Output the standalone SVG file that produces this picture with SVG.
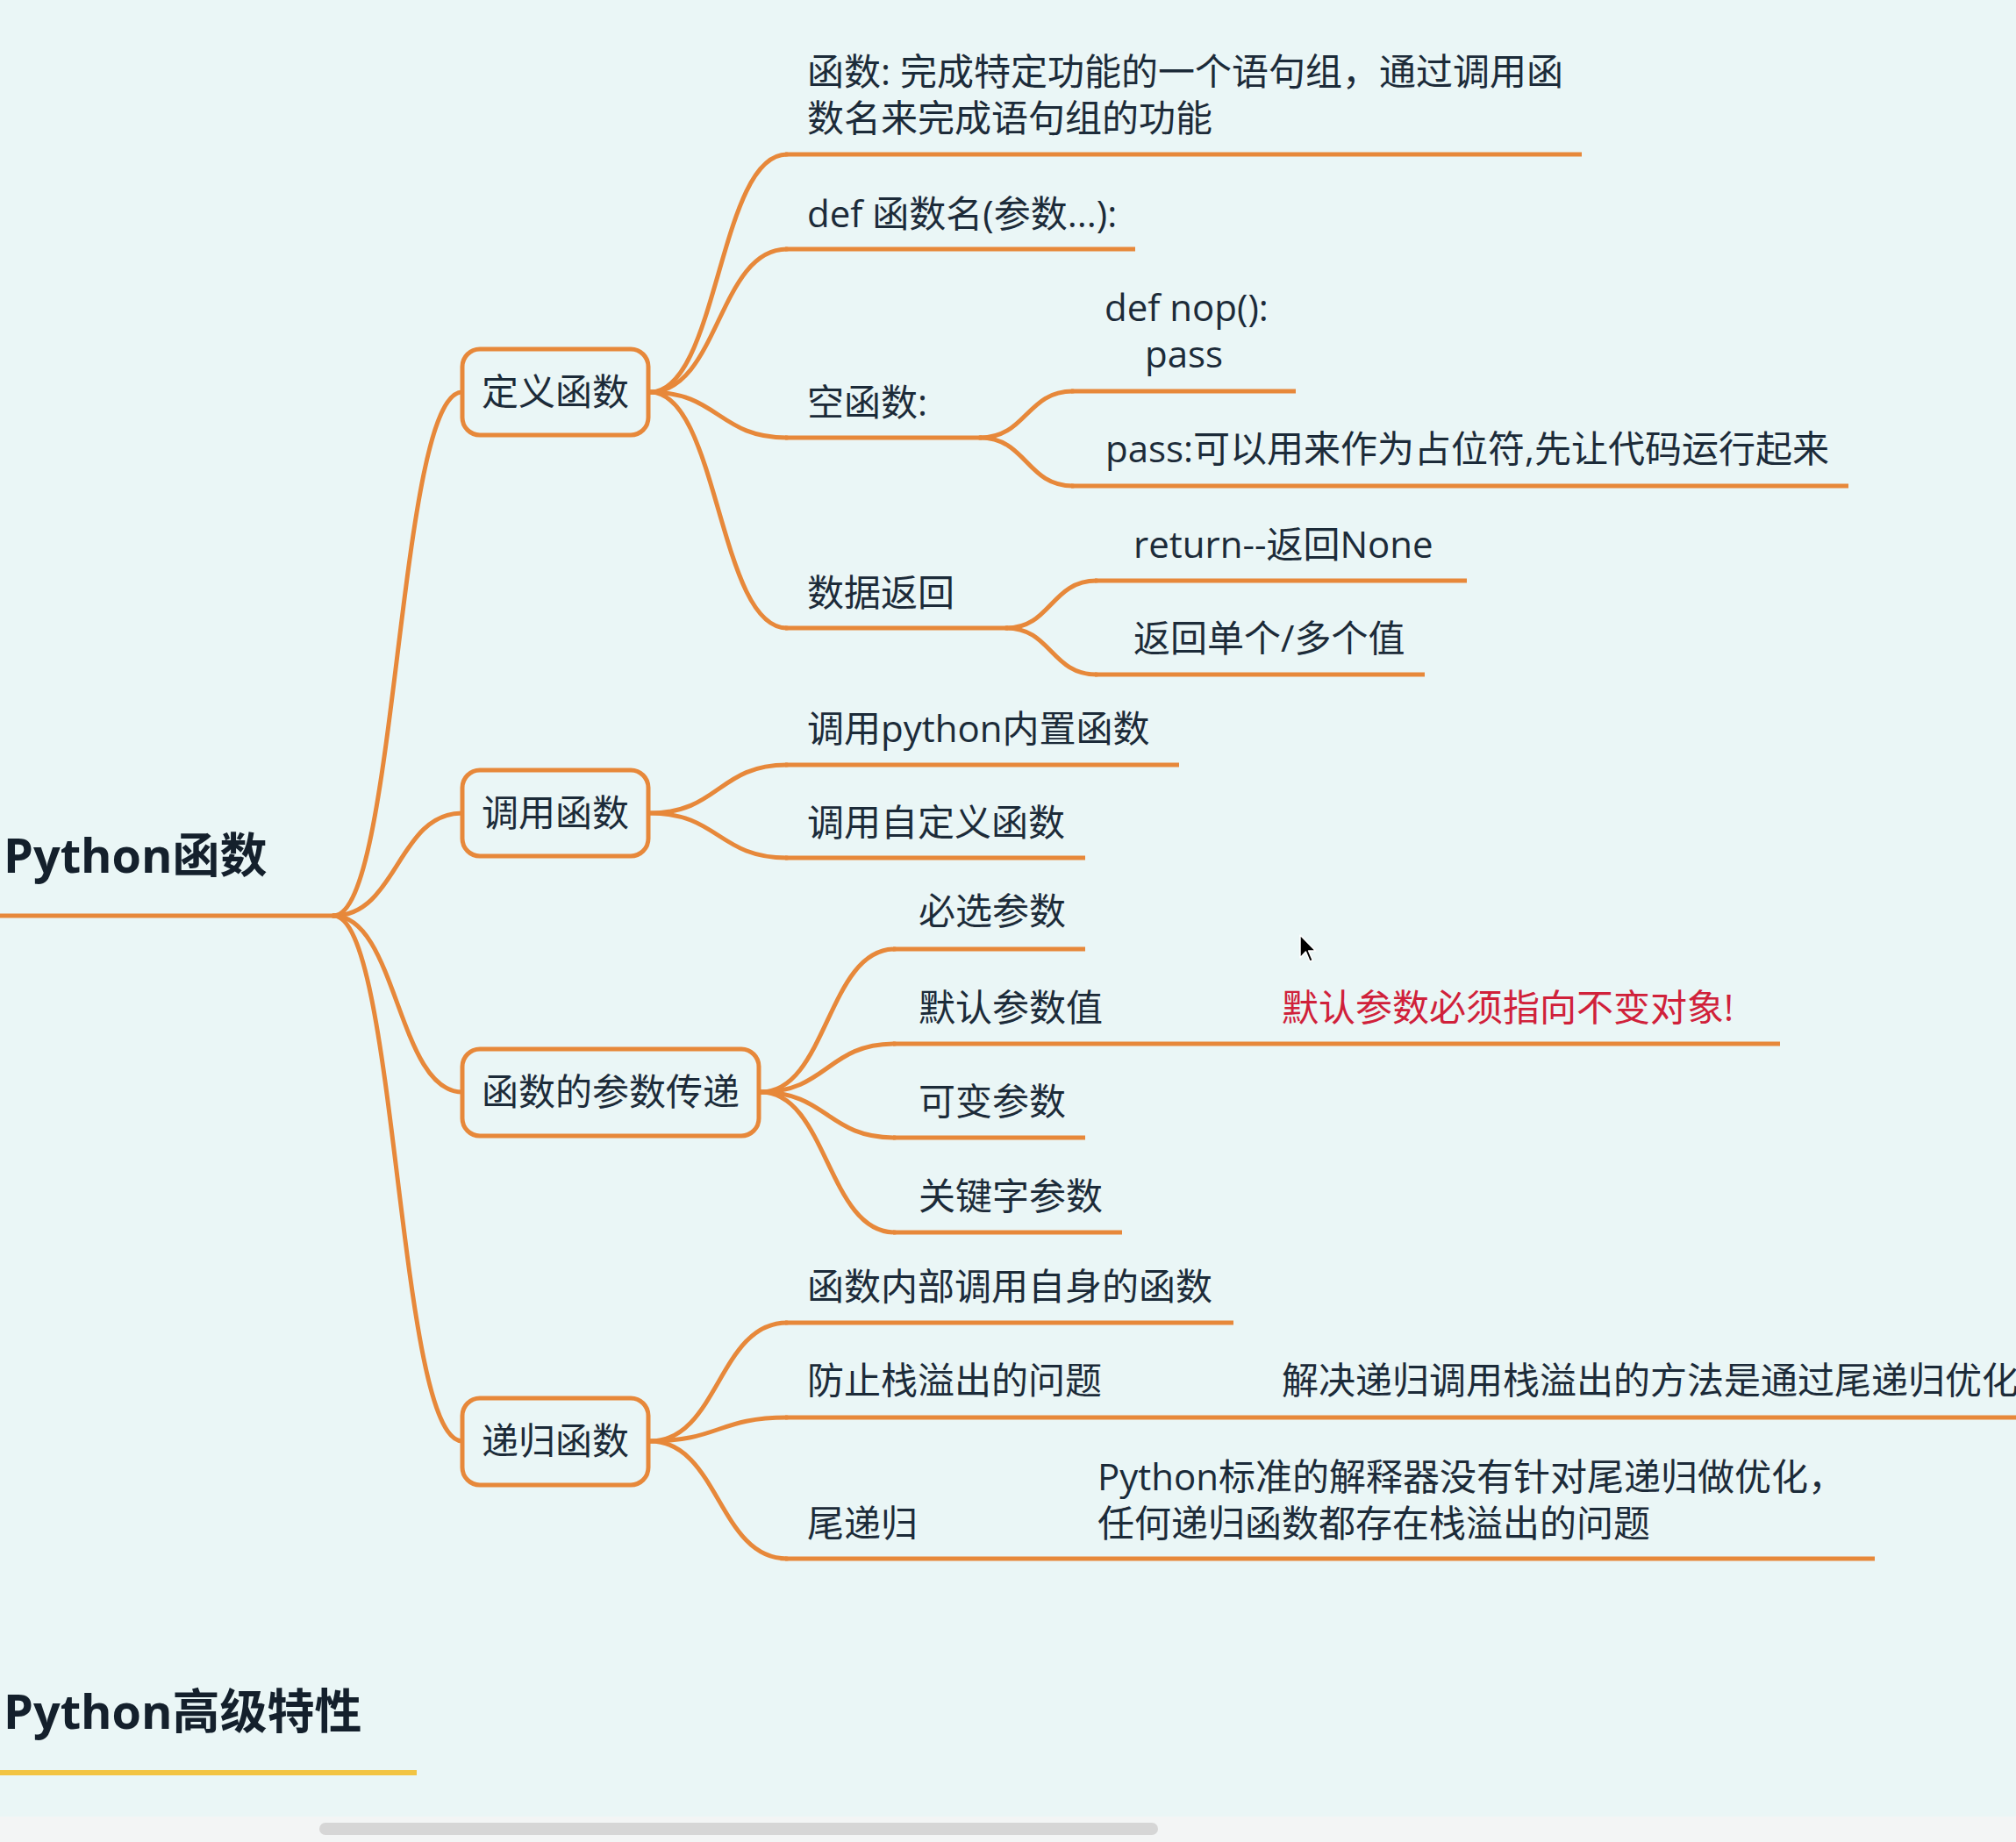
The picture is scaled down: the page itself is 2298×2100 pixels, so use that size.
<svg xmlns="http://www.w3.org/2000/svg" width="2298" height="2100" viewBox="0 0 2298 2100">
<style>
.bg{fill:#EAF6F6}
.t{font-family:"Open Sans","Noto Sans CJK SC",sans-serif;font-size:42px;fill:#1C2B39}
.tb{font-family:"Open Sans","Noto Sans CJK SC",sans-serif;font-size:54px;font-weight:bold;fill:#14202C}
.red{fill:#D0213A}
.box{fill:#EAF6F6;stroke:#E7883A;stroke-width:5}
.ul{stroke:#E7883A;stroke-width:5;fill:none}
.c{stroke:#E7883A;stroke-width:5;fill:none;stroke-linecap:round}
</style>
<rect class="bg" x="0" y="0" width="2298" height="2100"/>

<g id="connectors">
<path class="c" d="M380,1044 C453,1044 453,447 527,447"/>
<path class="c" d="M380,1044 C453,1044 453,927 527,927"/>
<path class="c" d="M380,1044 C453,1044 453,1245 527,1245"/>
<path class="c" d="M380,1044 C453,1044 453,1643 527,1643"/>
<path class="c" d="M741,447 C819,447 819,176 897,176"/>
<path class="c" d="M741,447 C819,447 819,284 897,284"/>
<path class="c" d="M741,447 C819,447 819,499 897,499"/>
<path class="c" d="M741,447 C819,447 819,716 897,716"/>
<path class="c" d="M1117,499 C1170,499 1170,446 1223,446"/>
<path class="c" d="M1117,499 C1170,499 1170,554 1223,554"/>
<path class="c" d="M1147,716 C1198,716 1198,662 1250,662"/>
<path class="c" d="M1147,716 C1198,716 1198,769 1250,769"/>
<path class="c" d="M741,927 C819,927 819,872 897,872"/>
<path class="c" d="M741,927 C819,927 819,978 897,978"/>
<path class="c" d="M867,1245 C943,1245 943,1082 1020,1082"/>
<path class="c" d="M867,1245 C943,1245 943,1190 1020,1190"/>
<path class="c" d="M867,1245 C943,1245 943,1297 1020,1297"/>
<path class="c" d="M867,1245 C943,1245 943,1405 1020,1405"/>
<path class="c" d="M741,1643 C819,1643 819,1508 897,1508"/>
<path class="c" d="M741,1643 C819,1643 819,1616 897,1616"/>
<path class="c" d="M741,1643 C819,1643 819,1777 897,1777"/>
</g>

<g id="root">
<text class="tb" x="4" y="995">Python函数</text>
<line class="ul" x1="0" y1="1044" x2="382" y2="1044"/>
</g>

<g id="n-define">
<rect class="box" x="527" y="398" width="212" height="98" rx="20"/>
<text class="t" x="633" y="462" text-anchor="middle">定义函数</text>
</g>
<g id="n-call">
<rect class="box" x="527" y="878" width="212" height="98" rx="20"/>
<text class="t" x="633" y="942" text-anchor="middle">调用函数</text>
</g>
<g id="n-params">
<rect class="box" x="527" y="1196" width="338" height="99" rx="20"/>
<text class="t" x="696" y="1260" text-anchor="middle">函数的参数传递</text>
</g>
<g id="n-recursion">
<rect class="box" x="527" y="1594" width="212" height="99" rx="20"/>
<text class="t" x="633" y="1658" text-anchor="middle">递归函数</text>
</g>

<g id="n-def-desc">
<text class="t" x="920" y="97">函数: 完成特定功能的一个语句组，通过调用函</text>
<text class="t" x="920" y="150">数名来完成语句组的功能</text>
<line class="ul" x1="895" y1="176" x2="1803" y2="176"/>
</g>
<g id="n-def-syntax">
<text class="t" x="920" y="259">def 函数名(参数...):</text>
<line class="ul" x1="895" y1="284" x2="1294" y2="284"/>
</g>
<g id="n-empty">
<text class="t" x="920" y="474">空函数:</text>
<line class="ul" x1="895" y1="499" x2="1119" y2="499"/>
</g>
<g id="n-nop">
<text class="t" x="1259" y="366">def nop():</text>
<text class="t" x="1305" y="419">pass</text>
<line class="ul" x1="1221" y1="446" x2="1477" y2="446"/>
</g>
<g id="n-pass">
<text class="t" x="1260" y="527">pass:可以用来作为占位符,先让代码运行起来</text>
<line class="ul" x1="1221" y1="554" x2="2107" y2="554"/>
</g>
<g id="n-return">
<text class="t" x="920" y="691">数据返回</text>
<line class="ul" x1="895" y1="716" x2="1149" y2="716"/>
</g>
<g id="n-return-none">
<text class="t" x="1292" y="636">return--返回None</text>
<line class="ul" x1="1248" y1="662" x2="1672" y2="662"/>
</g>
<g id="n-return-multi">
<text class="t" x="1292" y="743">返回单个/多个值</text>
<line class="ul" x1="1248" y1="769" x2="1624" y2="769"/>
</g>

<g id="n-call-builtin">
<text class="t" x="920" y="846">调用python内置函数</text>
<line class="ul" x1="895" y1="872" x2="1344" y2="872"/>
</g>
<g id="n-call-custom">
<text class="t" x="920" y="953">调用自定义函数</text>
<line class="ul" x1="895" y1="978" x2="1237" y2="978"/>
</g>

<g id="n-required">
<text class="t" x="1047" y="1054">必选参数</text>
<line class="ul" x1="1018" y1="1082" x2="1237" y2="1082"/>
</g>
<g id="n-default">
<text class="t" x="1047" y="1164">默认参数值</text>
<text class="t red" x="1461" y="1164">默认参数必须指向不变对象!</text>
<line class="ul" x1="1018" y1="1190" x2="2029" y2="1190"/>
</g>
<g id="n-variable">
<text class="t" x="1047" y="1271">可变参数</text>
<line class="ul" x1="1018" y1="1297" x2="1237" y2="1297"/>
</g>
<g id="n-keyword">
<text class="t" x="1047" y="1379">关键字参数</text>
<line class="ul" x1="1018" y1="1405" x2="1279" y2="1405"/>
</g>

<g id="n-rec-def">
<text class="t" x="920" y="1482">函数内部调用自身的函数</text>
<line class="ul" x1="895" y1="1508" x2="1406" y2="1508"/>
</g>
<g id="n-rec-overflow">
<text class="t" x="920" y="1589">防止栈溢出的问题</text>
<text class="t" x="1461" y="1589">解决递归调用栈溢出的方法是通过尾递归优化</text>
<line class="ul" x1="895" y1="1616" x2="2298" y2="1616"/>
</g>
<g id="n-rec-tail">
<text class="t" x="920" y="1752">尾递归</text>
<text class="t" x="1251" y="1699">Python标准的解释器没有针对尾递归做优化，</text>
<text class="t" x="1251" y="1752">任何递归函数都存在栈溢出的问题</text>
<line class="ul" x1="895" y1="1777" x2="2137" y2="1777"/>
</g>

<g id="root2">
<text class="tb" x="4" y="1971">Python高级特性</text>
<line x1="0" y1="2021" x2="475" y2="2021" stroke="#F2C443" stroke-width="6"/>
</g>

<g id="scrollbar">
<rect x="0" y="2071" width="2298" height="29" fill="#F3F5F5"/>
<rect x="364" y="2078" width="956" height="14" rx="7" fill="#D6D6D6"/>
</g>

<g id="cursor">
<path d="M1482,1066 L1482,1092 L1488.4,1085 L1493,1096 L1496.4,1095 L1491.6,1084 L1499.6,1084 Z" fill="#000" stroke="#fff" stroke-width="1.5" stroke-linejoin="round"/>
</g>
</svg>
